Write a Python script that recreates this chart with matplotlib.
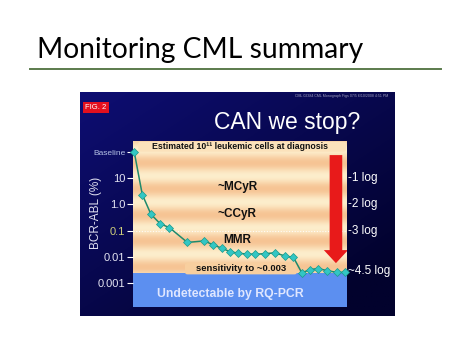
import numpy as np
import matplotlib
matplotlib.use("Agg")
import matplotlib.pyplot as plt
from matplotlib.patches import FancyBboxPatch, Polygon, Rectangle
from matplotlib.lines import Line2D

# ---------------- data ----------------
months = [0, 0.94, 1.96, 3.06, 4.12, 6.24, 8.24, 9.29, 10.28, 11.25, 12.24, 13.22,
          14.2, 15.38, 16.55, 17.73, 18.71, 19.69, 20.67, 21.65, 22.64, 23.81, 24.79]
bcr_abl = [100, 2.4, 0.42, 0.18, 0.13, 0.035, 0.04, 0.028, 0.021, 0.0155, 0.0134, 0.0126,
           0.0123, 0.013, 0.014, 0.0105, 0.0093, 0.0024, 0.0032, 0.0035, 0.0029, 0.0025, 0.0025]
tick_values = [100, 10, 1, 0.1, 0.01, 0.001]
tick_labels = ['Baseline', '10', '1.0', '0.1', '0.01', '0.001']
log_labels = ['-1 log', '-2 log', '-3 log', '~4.5 log']
log_levels = [10, 1, 0.1, 0.0028]
response_labels = ['~MCyR', '~CCyR', 'MMR']

W, H = 474, 355
def fx(x): return x / W
def fy(y): return 1 - y / H

FONT = 'Liberation Sans'
fig = plt.figure(figsize=(W / 100, H / 100), dpi=100)
fig.patch.set_facecolor('white')

# title
fig.text(fx(37), fy(58), 'Monitoring CML summary', fontsize=20.3, family='Lato',
         color='black', va='baseline', ha='left')
fig.add_artist(Line2D([fx(30), fx(441)], [fy(69), fy(69)], color='#5b7b4c', lw=1.4))

# dark panel with gradient
pax = fig.add_axes([fx(80), fy(316), (394 - 80) / W, (316 - 92) / H])
gx, gy = np.meshgrid(np.linspace(0, 1, 200), np.linspace(0, 1, 200))
t = np.clip(0.55 * gx + 0.6 * gy, 0, 1)
c0 = np.array([14, 14, 115]) / 255
c1 = np.array([2, 2, 45]) / 255
img = c0[None, None, :] * (1 - t[..., None]) + c1[None, None, :] * t[..., None]
pax.imshow(img, extent=[0, 1, 0, 1], aspect='auto', origin='upper')
pax.set_xlim(0, 1); pax.set_ylim(0, 1)
pax.axis('off')

# FIG. 2 box
fig.patches.append(Rectangle((fx(83), fy(113)), 26 / W, 11 / H, transform=fig.transFigure,
                             facecolor='#e3101e', edgecolor='none', zorder=3))
fig.text(fx(96), fy(107.5), 'FIG. 2', fontsize=5.5, family=FONT, color='white',
         ha='center', va='center', zorder=4)
fig.text(fx(388), fy(96), 'CML 02384 CML Monograph Figs 07/5 6/10/2008 4:51 PM',
         fontsize=2.6, family=FONT, color='#a0a0c0', ha='right', va='center')
fig.text(fx(287), fy(122), 'CAN we stop?', fontsize=16.5, family=FONT, color='white',
         ha='center', va='center')

# main axes
ax = fig.add_axes([fx(133), fy(307), 214 / W, 166 / H])
ax.set_yscale('log')
ylo, yhi = -3.93, 2.43
ax.set_ylim(10 ** ylo, 10 ** yhi)
ax.set_xlim(-0.15, 25.0)
def yf(l): return (l - ylo) / (yhi - ylo)

# banded background
L = np.linspace(ylo, yhi, 600)
f = 0.5 - 0.5 * np.cos(2 * np.pi * (L - 0.1))
light = np.array([253, 238, 204]) / 255
dark = np.array([246, 196, 148]) / 255
band = light[None, :] * (1 - f[:, None]) + dark[None, :] * f[:, None]
band = np.repeat(band[:, None, :], 4, axis=1)
ax.imshow(band, extent=[0, 1, 0, 1], transform=ax.transAxes, aspect='auto',
          origin='lower', zorder=0)

# undetectable region
ax.add_patch(Rectangle((0, 0), 1, yf(-2.63), transform=ax.transAxes,
                       facecolor='#5c8ff0', edgecolor='none', zorder=1))
ax.text(0.455, yf(-3.45), 'Undetectable by RQ-PCR', transform=ax.transAxes,
        fontsize=8.8, fontweight='bold', family=FONT, color='#dfe6ff',
        ha='center', va='center', zorder=3)

# dotted line at 0.1
ax.axhline(0.1, color='white', ls=(0, (1, 1.5)), lw=0.8, alpha=0.9, zorder=1.5)

# top estimated box
ax.add_patch(FancyBboxPatch((0.025, yf(2.02)), 0.97, yf(2.40) - yf(2.02),
                            boxstyle='round,pad=0,rounding_size=0.01', transform=ax.transAxes,
                            facecolor='#fbe2bb', edgecolor='none', zorder=2))
ax.text(0.5, yf(2.22), 'Estimated 10¹¹ leukemic cells at diagnosis',
        transform=ax.transAxes, fontsize=6.3, fontweight='bold', family=FONT,
        color='#111111', ha='center', va='center', zorder=3)

# sensitivity box
ax.add_patch(FancyBboxPatch((0.243, yf(-2.68)), 0.766 - 0.243, yf(-2.24) - yf(-2.68),
                            boxstyle='round,pad=0,rounding_size=0.012', transform=ax.transAxes,
                            facecolor='#f8cf9f', edgecolor='none', zorder=2))
ax.text(0.505, yf(-2.46), 'sensitivity to ~0.003', transform=ax.transAxes,
        fontsize=6.8, fontweight='bold', family=FONT, color='#111111',
        ha='center', va='center', zorder=3)

# response labels
for lab, (xx, ll) in zip(response_labels, [(12.1, 0.65), (12.1, -0.38), (12.1, -1.35)]):
    ax.text(xx, 10 ** ll, lab, fontsize=8.5, fontweight='bold', family=FONT,
            color='#111111', ha='center', va='center', zorder=3)

# red arrow
xc = 23.7
sw, hw = 0.74, 1.42
top, hb, tip = 1.89, -1.75, -2.25
arrow = Polygon([(xc - sw, 10 ** top), (xc + sw, 10 ** top), (xc + sw, 10 ** hb),
                 (xc + hw, 10 ** hb), (xc, 10 ** tip), (xc - hw, 10 ** hb),
                 (xc - sw, 10 ** hb)], closed=True, facecolor='#e81a1a',
                edgecolor='none', zorder=4)
ax.add_patch(arrow)

# data line
ax.plot(months, bcr_abl, color='#1f8a6c', lw=1.1, zorder=5, clip_on=False,
        marker='D', markersize=4.2, markerfacecolor='#33c6c4', markeredgecolor='#1a9a8a',
        markeredgewidth=0.5)

# axes styling
for s in ax.spines.values():
    s.set_visible(False)
ax.set_xticks([])
ax.set_yticks(tick_values)
ax.set_yticklabels(tick_labels)
ax.yaxis.set_minor_locator(matplotlib.ticker.NullLocator())
ax.tick_params(axis='y', colors='white', length=4, width=0.8, pad=1.5, labelsize=8)
for lab in ax.get_yticklabels():
    lab.set_family(FONT)
    lab.set_color('#e4e4f2')
lbls = ax.get_yticklabels()
lbls[0].set_fontsize(6)
lbls[0].set_color('#b4c0e4')
lbls[3].set_color('#cfcf7a')

fig.text(fx(96), fy(213), 'BCR-ABL (%)', rotation=90, fontsize=8.5, family=FONT,
         color='#e0e0f0', ha='center', va='center')

# right-side log labels
for lab, lv in zip(log_labels, log_levels):
    yy = ax.transData.transform((0, lv))[1]
    fig.text(fx(348), yy / H, lab, fontsize=8.5, family=FONT, color='white',
             ha='left', va='center')

fig.savefig('out.png', dpi=100)
